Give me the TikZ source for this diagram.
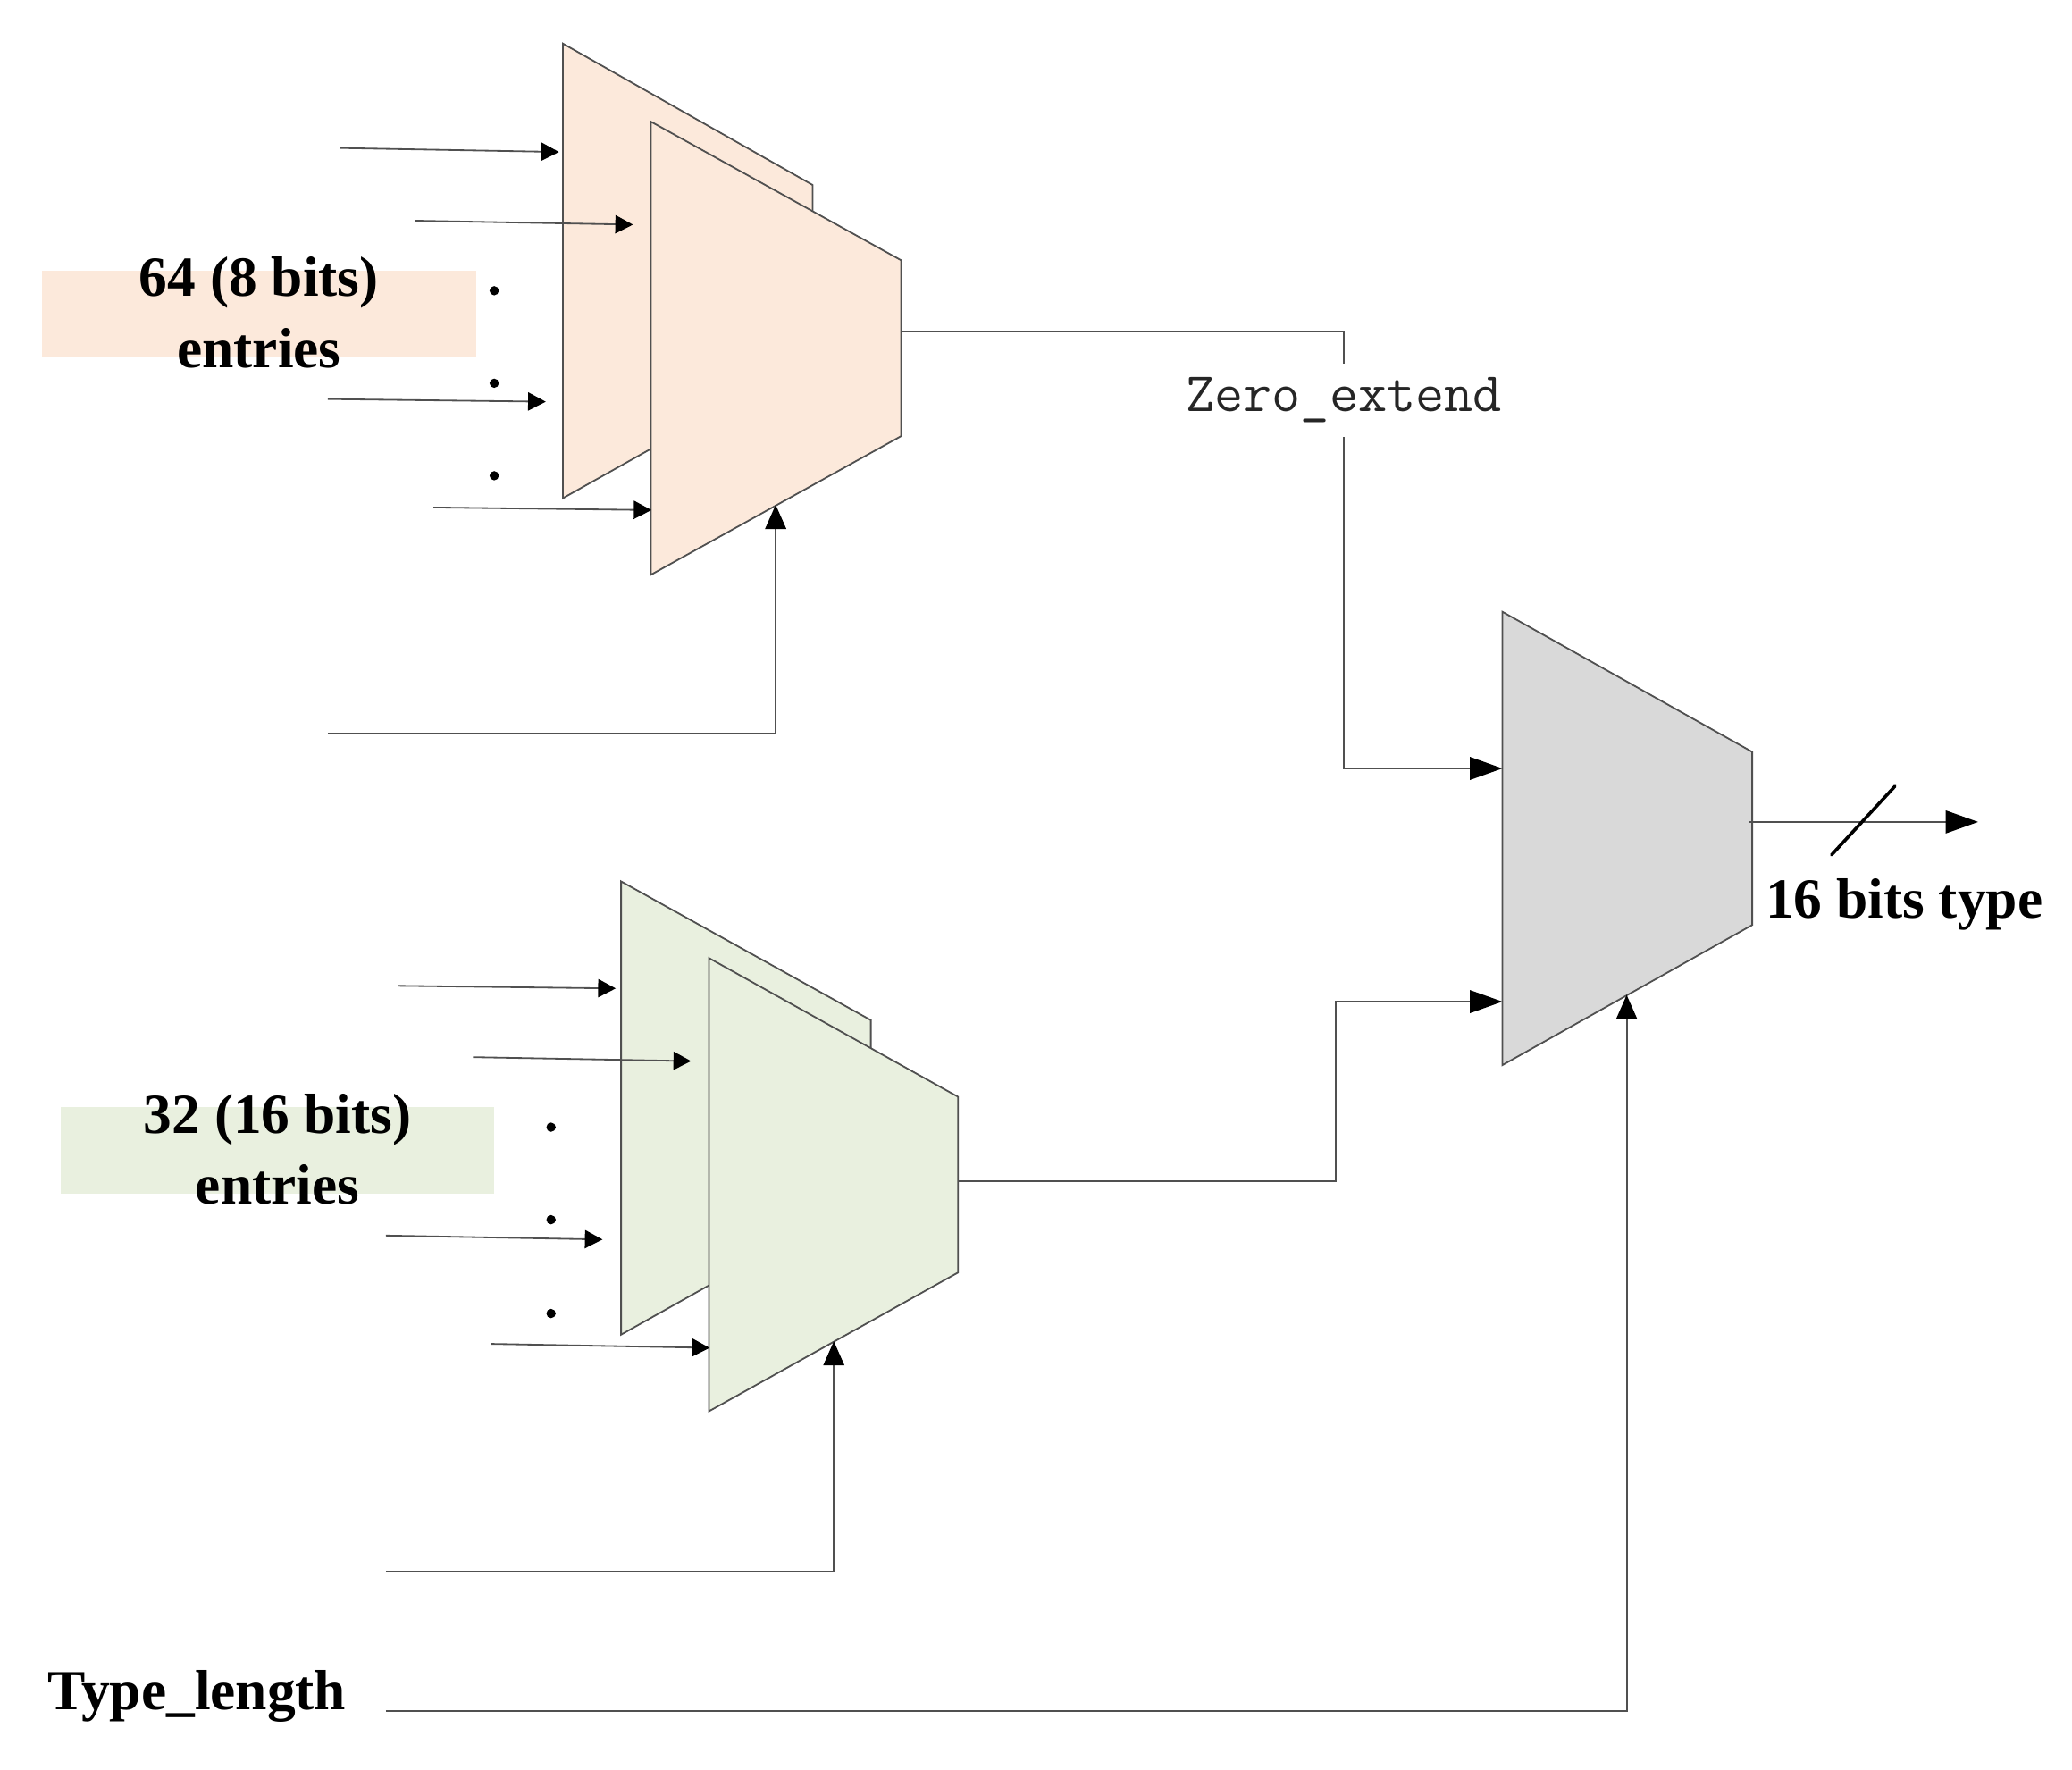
\documentclass[tikz,border=0pt]{standalone}
\usepackage{fontspec}
\setmainfont{Liberation Serif}
\usetikzlibrary{arrows.meta}
\definecolor{peach}{HTML}{FCE9DB}
\definecolor{sage}{HTML}{E9F0DF}
\definecolor{muxgrey}{HTML}{D9D9D9}
\definecolor{wire}{HTML}{505050}
\tikzset{
  muxshape/.style={draw=wire,line width=0.35pt,line join=miter},
  wireline/.style={draw=wire,line width=0.35pt},
  smalltip/.style={wireline,-{Triangle[length=3.8pt,width=3.9pt,black]}},
  midtip/.style={wireline,-{Triangle[length=5.2pt,width=4.5pt,black]}},
  bigtip/.style={wireline,-{Triangle[length=7pt,width=4.9pt,black]}},
  boldlabel/.style={font=\fontsize{12.2}{14}\selectfont\bfseries,anchor=base,inner sep=0pt,text=black},
  dotmark/.style={circle,fill=black,inner sep=0pt,minimum size=2pt}
}
\begin{document}
\begin{tikzpicture}[x=0.01cm,y=-0.01cm]
\useasboundingbox (0,0) rectangle (1568,1339);
% legend bands
\node[fill=peach,minimum width=3.28cm,minimum height=0.65cm,inner sep=0pt] (bandA) at (196,237.5) {};
\node[fill=sage,minimum width=3.28cm,minimum height=0.65cm,inner sep=0pt] (bandB) at (210,870.5) {};
% multiplexers
\filldraw[muxshape,fill=peach] (426,33) -- (615,140) -- (615,271) -- (426,377) -- cycle;
\filldraw[muxshape,fill=peach] (492.5,92) -- (682,197) -- (682,330) -- (492.5,435) -- cycle;
\filldraw[muxshape,fill=sage] (470,667) -- (659,772) -- (659,904) -- (470,1010) -- cycle;
\filldraw[muxshape,fill=sage] (536.5,725) -- (725,830) -- (725,963) -- (536.5,1068) -- cycle;
\filldraw[muxshape,fill=muxgrey] (1137,463) -- (1326,569) -- (1326,700) -- (1137,806) -- cycle;
% labels
\node[boldlabel] (la1) at (196,224) {64 (8 bits)};
\node[boldlabel] (la2) at (196,278) {entries};
\node[boldlabel] (lb1) at (210,858) {32 (16 bits)};
\node[boldlabel] (lb2) at (210,911) {entries};
\node[boldlabel] (lout) at (1441,695) {16 bits type};
\node[boldlabel] (ltype) at (149,1294) {Type\_length};
% dots
\foreach \n/\x/\y in {a/374/220,b/374/290,c/374/360,d/417/853,e/417/923,f/417/994}
  \node[dotmark] (dot\n) at (\x,\y) {};
% end points
\coordinate (i1s) at (257,112); \coordinate (i1e) at (423,115);
\coordinate (i2s) at (314,167); \coordinate (i2e) at (479,170);
\coordinate (i3s) at (248,302); \coordinate (i3e) at (413,304);
\coordinate (i4s) at (328,384); \coordinate (i4e) at (493,386);
\coordinate (j1s) at (301,746); \coordinate (j1e) at (466,748);
\coordinate (j2s) at (358,800); \coordinate (j2e) at (523,803);
\coordinate (j3s) at (292,935); \coordinate (j3e) at (456,938);
\coordinate (j4s) at (372,1017); \coordinate (j4e) at (537,1020);
\coordinate (selA) at (248,555); \coordinate (selAe) at (587,382);
\coordinate (selB) at (292,1189); \coordinate (selBe) at (631,1015);
\coordinate (selT) at (292,1295); \coordinate (selTe) at (1231,753);
\coordinate (outA) at (682,251); \coordinate (inA) at (1137,581.5);
\coordinate (outB) at (725,894); \coordinate (inB) at (1137,758);
\coordinate (outC) at (1324,622); \coordinate (outCe) at (1497,622);
\coordinate (slashA) at (1386,647); \coordinate (slashB) at (1434,595);
% inputs
\foreach \n in {i1,i2,i3,i4,j1,j2,j3,j4}
  \draw[smalltip] (\n s) -- (\n e);
% selects
\draw[midtip] (selA) -| (selAe);
\draw[midtip] (selB) -| (selBe);
\draw[midtip] (selT) -| (selTe);
% outputs
\draw[bigtip] (outA) -- (1017,251) -- (1017,581.5) -- (inA);
\draw[bigtip] (outB) -- (1011,894) -- (1011,758) -- (inB);
\draw[bigtip] (outC) -- (outCe);
\draw[black,line width=0.7pt,line cap=round] (slashA) -- (slashB);
\node[fill=white,font=\fontsize{12}{14}\selectfont\ttfamily,anchor=center,inner xsep=0pt,inner ysep=3pt,text=black!85] (zx) at (1017,303) {Zero\_extend};
\end{tikzpicture}
\end{document}
